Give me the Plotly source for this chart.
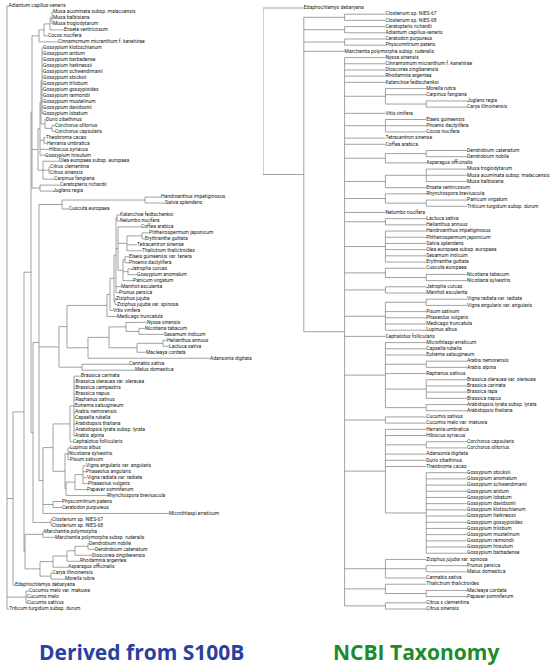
import re
import plotly.graph_objects as go

# Tree derived from S100B sequences (phylogram, branch lengths)
S100B_TREE = """
(Adiantum capillus-veneris:0.015,
 (
  (
   (
    (
     (
      (
       ((Musa acuminata subsp. malaccensis:0.01,Musa balbisiana:0.01,Musa troglodytarum:0.01):0.02,
        Ensete ventricosum:0.14):0.06,
       Cocos nucifera:0.04):0.05,
      Cinnamomum micranthum f. kanehirae:0.19):0.07,
     (
      (
       (
        (Gossypium klotzschianum:0.01,Gossypium aridum:0.01,Gossypium barbadense:0.01,
         Gossypium harknessii:0.01,Gossypium schwendimanii:0.01,Gossypium stocksii:0.01,
         Gossypium trilobum:0.01,Gossypium gossypioides:0.01,Gossypium raimondii:0.01,
         Gossypium mustelinum:0.01,Gossypium davidsonii:0.01,Gossypium lobatum:0.01):0.01,
        (Durio zibethinus:0.01,(Corchorus olitorius:0.03,Corchorus capsularis:0.03):0.07):0.04
       ):0.01,
       (Theobroma cacao:0.02,Herrania umbratica:0.03):0.04,
       Hibiscus syriacus:0.09,
       Gossypium hirsutum:0.05
      ):0.02,
      (Olea europaea subsp. europaea:0.16,
       (Citrus clementina:0.01,Citrus sinensis:0.01):0.06,
       Carpinus fangiana:0.11):0.05
     ):0.06,
     (Ceratopteris richardii:0.20,Juglans regia:0.13):0.08
    ):0.01,
    (
     (
      ((Handroanthus impetiginosus:0.16,Salvia splendens:0.20):0.83,Cuscuta europaea:0.07):0.23,
      (
       (
        (
         (
          (
           (
            (Kalanchoe fedtschenkoi:0.03,Nelumbo nucifera:0.03):0.01,
            (Coffea arabica:0.23,
             ((Phtheirospermum japonicum:0.07,Erythranthe guttata:0.03):0.15,
              Tetracentron sinense:0.10,Thalictrum thalictroides:0.15):0.09,
             ((Elaeis guineensis var. tenera:0.04,Phoenix dactylifera:0.04):0.02,
              (Jatropha curcas:0.03,Gossypium anomalum:0.09):0.05,
              Panicum virgatum:0.10):0.05
            ):0.02,
            Manihot esculenta:0.05,
            Prunus persica:0.03
           ):0.02,
           (Ziziphus jujuba:0.01,Ziziphus jujuba var. spinosa:0.02):0.01
          ):0.04,
          Vitis vinifera:0.03
         ):0.03,
         Medicago truncatula:0.10
        ):0.40,
        (
         (
          (Nyssa sinensis:0.21,(Nicotiana tabacum:0.06,Sesamum indicum:0.25):0.13):0.17,
          ((Helianthus annuus:0.04,Lactuca sativa:0.06):0.26,Macleaya cordata:0.09):0.28
         ):0.21,
         Adansonia digitata:1.22
        ):0.21
       ):0.08,
       (Cannabis sativa:0.47,Malus domestica:0.53):0.23
      ):0.20,
      (
       (
        (
         (Brassica carinata:0.07,Brassica oleracea var. oleracea:0.015,Brassica campestris:0.015,
          Brassica napus:0.015,Raphanus sativus:0.015,Eutrema salsugineum:0.01,
          Arabis nemorensis:0.01,Capsella rubella:0.01,Arabidopsis thaliana:0.01,
          Arabidopsis lyrata subsp. lyrata:0.015,Arabis alpina:0.01):0.04,
         Cephalotus follicularis:0.03
        ):0.17,
        (
         (Lupinus albus:0.02,Nicotiana sylvestris:0.01,Pisum sativum:0.02):0.03,
         (
          ((Vigna angularis var. angularis:0.03,Phaseolus angularis:0.03,
            Vigna radiata var. radiata:0.04,Phaseolus vulgaris:0.05):0.08,
           Papaver somniferum:0.12):0.09,
          Rhynchospora breviuscula:0.41
         ):0.01
        ):0.12
       ):0.10,
       (Physcomitrium patens:0.09,Ceratodon purpureus:0.09):0.10,
       Microthlaspi erraticum:1.26
      ):0.04
     ):0.06,
     (Closterium sp. NIES-67:0.01,Closterium sp. NIES-68:0.01):0.18
    ):0.02
   ):0.07,
   (
    (Marchantia polymorpha:0.01,Marchantia polymorpha subsp. ruderalis:0.12):0.18,
    (
     (
      (
       ((Dendrobium nobile:0.01,Dendrobium catenatum:0.07):0.13,Dioscorea zingiberensis:0.17):0.08,
       Rhodamnia argentea:0.13):0.14,
      Asparagus officinalis:0.15):0.13,
     (Carya illinoinensis:0.015,Morella rubra:0.14):0.11
    ):0.15
   ):0.01
  ):0.11,
  Edaphochlamys debaryana:0.02
 ):0.06,
 (Cucumis melo var. makuwa:0.03,Cucumis melo:0.01,Cucumis sativus:0.01):0.19,
 Triticum turgidum subsp. durum:0.02
);
"""

# NCBI taxonomy (cladogram, unit branches)
NCBI_TREE = """
(Edaphochlamys debaryana,
 ((Closterium sp. NIES-67,Closterium sp. NIES-68),
  (Ceratopteris richardii,Adiantum capillus-veneris),
  (Ceratodon purpureus,Physcomitrium patens),
  Marchantia polymorpha subsp. ruderalis,
  (Nyssa sinensis,
   Cinnamomum micranthum f. kanehirae,
   Dioscorea zingiberensis,
   Rhodamnia argentea,
   Kalanchoe fedtschenkoi,
   (Morella rubra,Carpinus fangiana,(Juglans regia,Carya illinoinensis)),
   Vitis vinifera,
   (Elaeis guineensis,Phoenix dactylifera,Cocos nucifera),
   Tetracentron sinense,
   Coffea arabica,
   ((Dendrobium catenatum,Dendrobium nobile),Asparagus officinalis),
   ((Musa troglodytarum,Musa acuminata subsp. malaccensis,Musa balbisiana),Ensete ventricosum),
   (Rhynchospora breviuscula,(Panicum virgatum,Triticum turgidum subsp. durum)),
   Nelumbo nucifera,
   (Lactuca sativa,Helianthus annuus),
   (Handroanthus impetiginosus,Phtheirospermum japonicum,Salvia splendens,
    Olea europaea subsp. europaea,Sesamum indicum,Erythranthe guttata),
   (Cuscuta europaea,(Nicotiana tabacum,Nicotiana sylvestris)),
   (Jatropha curcas,Manihot esculenta),
   ((Vigna radiata var. radiata,Vigna angularis var. angularis),
    Pisum sativum,Phaseolus vulgaris,Medicago truncatula,Lupinus albus),
   Cephalotus follicularis,
   (Microthlaspi erraticum,Capsella rubella,Eutrema salsugineum,
    (Arabis nemorensis,Arabis alpina),
    Raphanus sativus,
    (Brassica oleracea var. oleracea,Brassica carinata,Brassica rapa,Brassica napus),
    (Arabidopsis lyrata subsp. lyrata,Arabidopsis thaliana)),
   (Cucumis sativus,Cucumis melo var. makuwa),
   (Herrania umbratica,Hibiscus syriacus,
    (Corchorus capsularis,Corchorus olitorius),
    Adansonia digitata,Durio zibethinus,Theobroma cacao,
    (Gossypium stocksii,Gossypium anomalum,Gossypium schwendimanii,Gossypium aridum,
     Gossypium lobatum,Gossypium davidsonii,Gossypium klotzschianum,Gossypium harknessii,
     Gossypium gossypioides,Gossypium trilobum,Gossypium mustelinum,Gossypium raimondii,
     Gossypium hirsutum,Gossypium barbadense)),
   (Ziziphus jujuba var. spinosa,(Prunus persica,Malus domestica),Cannabis sativa),
   (Thalictrum thalictroides,(Macleaya cordata,Papaver somniferum)),
   (Citrus x clementina,Citrus sinensis)
  )
 )
);
"""

LEFT_TITLE = "Derived from S100B"
RIGHT_TITLE = "NCBI Taxonomy"


def parse_newick(s):
    s = re.sub(r"\s*([(),:;])\s*", r"\1", s.strip())
    pos = 0

    def node():
        nonlocal pos
        kids = []
        if s[pos] == "(":
            pos += 1
            while True:
                kids.append(node())
                ch = s[pos]
                pos += 1
                if ch == ")":
                    break
        start = pos
        while s[pos] not in ":,();":
            pos += 1
        name = s[start:pos].strip()
        length = 1.0
        if s[pos] == ":":
            pos += 1
            start = pos
            while s[pos] not in ",();":
                pos += 1
            length = float(s[start:pos])
        return {"name": name, "len": length, "kids": kids}

    return node()


def tree_xy(tree):
    lx, ly, names, tx, ty = [], [], [], [], []
    count = [0]

    def walk(n, x):
        if not n["kids"]:
            y = count[0]
            count[0] += 1
            names.append(n["name"])
            tx.append(x)
            ty.append(y)
            return y
        ys = []
        for c in n["kids"]:
            cx = x + c["len"]
            cy = walk(c, cx)
            ys.append(cy)
            lx.extend([x, cx, None])
            ly.extend([cy, cy, None])
        lx.extend([x, x, None])
        ly.extend([ys[0], ys[-1], None])
        return (ys[0] + ys[-1]) / 2

    walk(tree, 0.0)
    return lx, ly, names, tx, ty


W, H = 550, 672
SPLIT = 263  # px where right panel starts


def y_range(n, top_px, bottom_px):
    step = (bottom_px - top_px) / (n - 1)
    v_top = -top_px / step
    return [v_top + H / step, v_top]


fig = go.Figure()
line_style = dict(color="#7a7a7a", width=0.7)
text_font = dict(family="Roboto", size=5, color="#222222")

lx, ly, names, tx, ty = tree_xy(parse_newick(S100B_TREE))
fig.add_trace(go.Scatter(x=lx, y=ly, mode="lines", line=line_style,
                         hoverinfo="skip", xaxis="x", yaxis="y"))
fig.add_trace(go.Scatter(x=tx, y=ty, mode="text", text=names,
                         textposition="middle right", textfont=text_font,
                         cliponaxis=False, hoverinfo="skip", xaxis="x", yaxis="y"))
n_left = len(names)

rx, ry, rnames, rtx, rty = tree_xy(parse_newick(NCBI_TREE))
fig.add_trace(go.Scatter(x=rx, y=ry, mode="lines", line=line_style,
                         hoverinfo="skip", xaxis="x2", yaxis="y2"))
fig.add_trace(go.Scatter(x=rtx, y=rty, mode="text", text=rnames,
                         textposition="middle right", textfont=text_font,
                         cliponaxis=False, hoverinfo="skip", xaxis="x2", yaxis="y2"))
n_right = len(rnames)

title_font = dict(family="Open Sans", size=21, weight="bold")
fig.update_layout(
    width=W, height=H,
    margin=dict(l=0, r=0, t=0, b=0),
    paper_bgcolor="white", plot_bgcolor="white",
    showlegend=False,
    xaxis=dict(domain=[0, SPLIT / W], range=[-0.07, (SPLIT - 7) / 100], visible=False),
    yaxis=dict(range=y_range(n_left, 6, 609), visible=False),
    xaxis2=dict(domain=[SPLIT / W, 1], range=[0, (W - SPLIT) / 40.8], visible=False),
    yaxis2=dict(range=y_range(n_right, 8, 609), visible=False, anchor="x2"),
    annotations=[
        dict(text=LEFT_TITLE, x=141 / W, y=1 - 652 / H, xref="paper", yref="paper",
             xanchor="center", yanchor="middle", showarrow=False,
             font=dict(title_font, color="#2b3f9f")),
        dict(text=RIGHT_TITLE, x=416 / W, y=1 - 652 / H, xref="paper", yref="paper",
             xanchor="center", yanchor="middle", showarrow=False,
             font=dict(title_font, color="#1e8a2a")),
    ],
)

fig.write_html("out.html", config={"displayModeBar": False},
               post_script="document.body.style.margin='0';")
